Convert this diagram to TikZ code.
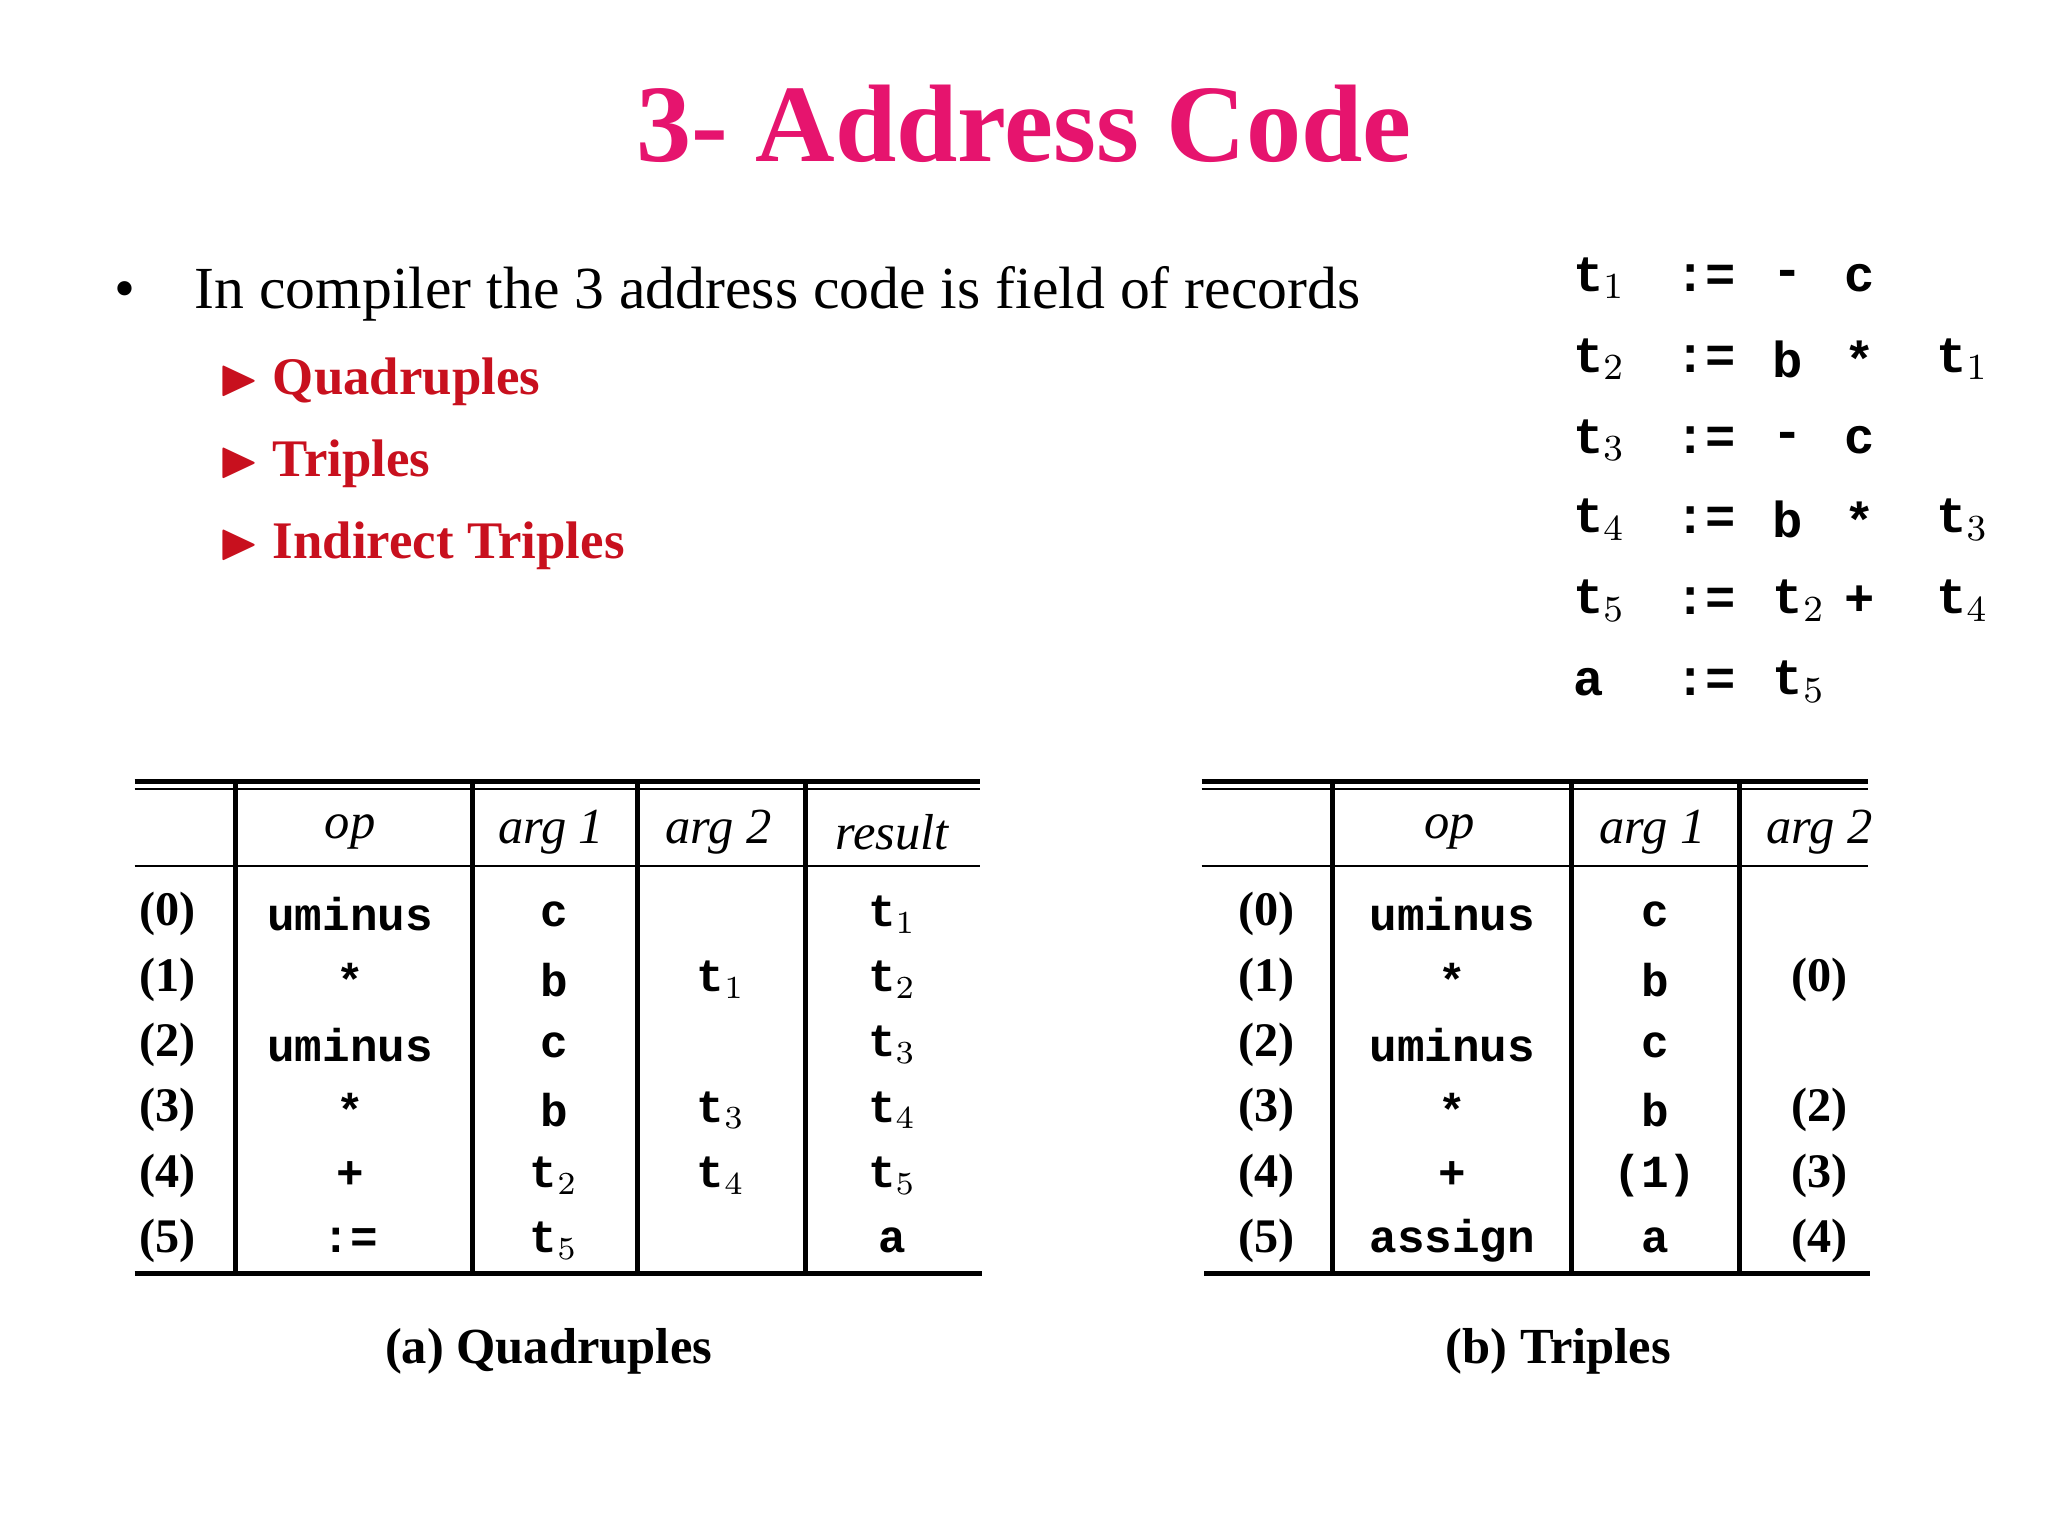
\documentclass[tikz,border=0pt]{standalone}
\usepackage{amssymb}
\usepackage{fontspec}
\setmainfont{Liberation Serif}
\setmonofont{Liberation Mono}
\definecolor{titlepink}{RGB}{230,20,110}
\definecolor{itemred}{RGB}{200,16,30}
\tikzset{
  cell/.style={font=\ttfamily\bfseries\fontsize{10}{12}\selectfont, anchor=center},
  num/.style={font=\bfseries\fontsize{10.5}{12}\selectfont, anchor=center},
  head/.style={font=\itshape\fontsize{11}{13}\selectfont, anchor=center},
  code/.style={font=\ttfamily\bfseries\fontsize{11}{13}\selectfont, anchor=west},
  item/.style={font=\bfseries\fontsize{11.5}{14}\selectfont, text=itemred, anchor=west},
  rule/.style={line width=1.1pt}
}
\begin{document}
\begin{tikzpicture}[x=0.01cm,y=-0.01cm]
\useasboundingbox (0,0) rectangle (1568,1176);
\node (title) [font=\bfseries\fontsize{24}{28}\selectfont, text=titlepink] at (784,95) {3- Address Code};
\node (bullet) [font=\fontsize{13}{16}\selectfont, anchor=west] at (75,225) {\textbullet\quad In compiler the 3 address code is field of records};
\node (quad) [item] at (155,292) {$\blacktriangleright$\ Quadruples};
\node (trip) [item] at (155,355) {$\blacktriangleright$\ Triples};
\node (itrip) [item] at (155,418) {$\blacktriangleright$\ Indirect Triples};
% code listing
\foreach \y/\a/\b/\c/\d/\e in {213/t$_1$/-/c//,275/t$_2$/b/*/t$_1$/,337/t$_3$/-/c//,
  398/t$_4$/b/*/t$_3$/,460/t$_5$/t$_2$/+/t$_4$/,522/a/t$_5$///}{
  \node (cv\y) [code] at (1192,\y) {\a};
  \node (ce\y) [code] at (1270,\y) {:=};
  \node (cb\y) [code] at (1345,\y) {\b};
  \node (cc\y) [code] at (1400,\y) {\c};
  \node (cd\y) [code] at (1470,\y) {\d};
}
% quadruples
\draw[rule] (103,598) -- (750,598); \draw (103,604) -- (750,604);
\draw (103,663) -- (750,663); \draw[rule] (103,975) -- (752,975);
\foreach \x in {180,362,488,617} \draw[rule] (\x,598) -- (\x,975);
\node (qop) [head] at (268,637) {op}; \node (qa1) [head] at (422,637) {arg 1};
\node (qa2) [head] at (550,637) {arg 2}; \node (qres) [head] at (683,637) {result};
\foreach \y/\n/\o/\a/\b/\r in {700/0/uminus/c//t$_1$,750/1/*/b/t$_1$/t$_2$,800/2/uminus/c//t$_3$,
  850/3/*/b/t$_3$/t$_4$,900/4/+/t$_2$/t$_4$/t$_5$,950/5/:=/t$_5$//a}{
  \node (qn\n) [num] at (128,\y) {(\n)};
  \node (qo\n) [cell] at (268,\y) {\o}; \node (qx\n) [cell] at (424,\y) {\a};
  \node (qy\n) [cell] at (552,\y) {\b}; \node (qr\n) [cell] at (683,\y) {\r};
}
\node (qcap) [font=\bfseries\fontsize{11}{13}\selectfont] at (420,1035) {(a) Quadruples};
% triples
\draw[rule] (920,598) -- (1430,598); \draw (920,604) -- (1430,604);
\draw (920,663) -- (1430,663); \draw[rule] (922,975) -- (1432,975);
\foreach \x in {1020,1203,1332} \draw[rule] (\x,598) -- (\x,975);
\node (top) [head] at (1110,637) {op}; \node (ta1) [head] at (1265,637) {arg 1};
\node (ta2) [head] at (1393,637) {arg 2};
\foreach \y/\n/\o/\a/\b in {700/0/uminus/c/,750/1/*/b/(0),800/2/uminus/c/,
  850/3/*/b/(2),900/4/+/(1)/(3),950/5/assign/a/(4)}{
  \node (tn\n) [num] at (970,\y) {(\n)};
  \node (to\n) [cell] at (1112,\y) {\o}; \node (tx\n) [cell] at (1267,\y) {\a};
  \node (ty\n) [num] at (1393,\y) {\b};
}
\node (tcap) [font=\bfseries\fontsize{11}{13}\selectfont] at (1193,1035) {(b) Triples};
\end{tikzpicture}
\end{document}
